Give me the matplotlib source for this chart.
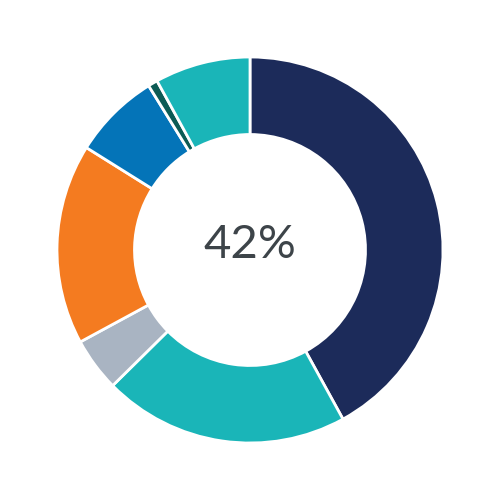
import matplotlib
matplotlib.use("Agg")
import matplotlib.pyplot as plt

labels = ["A", "B", "C", "D", "E", "F", "G"]
values = [42.0, 20.6, 4.5, 16.8, 7.3, 0.8, 8.0]
colors = ["#1c2b5a", "#1ab5b8", "#a9b4c2", "#f47b20", "#0474b8", "#0c5b55", "#1ab5b8"]
center_text = "42%"

fig = plt.figure(figsize=(5, 5), dpi=100)
ax = fig.add_axes([0, 0, 1, 1])
ax.pie(values, colors=colors, startangle=90, counterclock=False, radius=0.772,
       center=(0, 0),
       wedgeprops=dict(width=0.31, edgecolor="white", linewidth=2))
ax.text(0, 0.02, center_text, ha="center", va="center", fontsize=34,
        family="Lato", fontweight="normal", color="#3d4449")
ax.set_xlim(-1, 1)
ax.set_ylim(-1, 1)
ax.set_aspect("equal")
ax.axis("off")
fig.savefig("out.png", dpi=100, facecolor="white")
